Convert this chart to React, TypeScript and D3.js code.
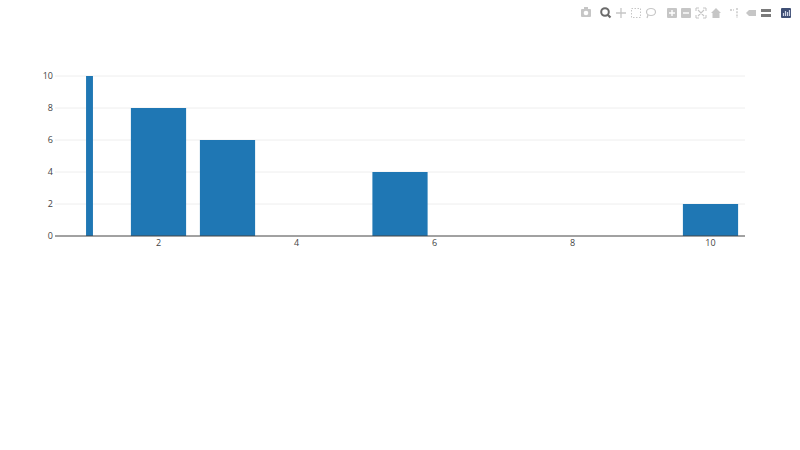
import { useRef, useEffect } from 'react';
import * as d3 from 'd3';

const xValues = [1, 2, 3, 5.5, 10];
const yValues = [10, 8, 6, 4, 2];
const barWidths = [0.1, 0.8, 0.8, 0.8, 0.8];
const xTicks = [2, 4, 6, 8, 10];
const yTicks = [0, 2, 4, 6, 8, 10];

const W = 800;
const H = 450;

export default function App() {
  const svgRef = useRef<SVGSVGElement>(null);

  useEffect(() => {
    const svg = d3.select(svgRef.current);
    svg.selectAll('*').remove();

    const left = 55, right = 745, top = 76, bottom = 236;
    const x = d3.scaleLinear().domain([0.5, 10.5]).range([left, right]);
    const y = d3.scaleLinear().domain([0, 10]).range([bottom, top]);

    const g = svg.append('g');
    const font = '"Open Sans", sans-serif';

    // grid
    yTicks.filter((t) => t !== 0).forEach((t) => {
      g.append('line').attr('x1', left).attr('x2', right)
        .attr('y1', y(t)).attr('y2', y(t))
        .attr('stroke', '#eee').attr('stroke-width', 1);
    });

    // bars
    xValues.forEach((xv, i) => {
      const x0 = x(xv - barWidths[i] / 2);
      const x1 = x(xv + barWidths[i] / 2);
      g.append('rect').attr('x', x0).attr('y', y(yValues[i]))
        .attr('width', x1 - x0).attr('height', y(0) - y(yValues[i]))
        .attr('fill', '#1f77b4');
    });

    // zero line
    g.append('line').attr('x1', left).attr('x2', right)
      .attr('y1', y(0)).attr('y2', y(0))
      .attr('stroke', '#444').attr('stroke-width', 1);

    // tick labels
    yTicks.forEach((t) => {
      g.append('text').attr('x', left - 2).attr('y', y(t) + 3)
        .attr('text-anchor', 'end').attr('fill', '#444')
        .attr('font-size', '9px').attr('font-family', font)
        .text(t);
    });
    xTicks.forEach((t) => {
      g.append('text').attr('x', x(t)).attr('y', bottom + 9.5)
        .attr('text-anchor', 'middle').attr('fill', '#444')
        .attr('font-size', '9px').attr('font-family', font)
        .text(t);
    });

    // modebar
    const mb = svg.append('g').attr('fill', '#c6c6c6').attr('stroke', 'none');
    const cy = 13;
    // camera
    mb.append('rect').attr('x', 581).attr('y', cy - 4).attr('width', 10).attr('height', 8).attr('rx', 1);
    mb.append('rect').attr('x', 584).attr('y', cy - 6).attr('width', 4).attr('height', 2);
    mb.append('circle').attr('cx', 586).attr('cy', cy).attr('r', 2.3).attr('fill', '#fff');
    // zoom (active)
    mb.append('circle').attr('cx', 605).attr('cy', cy - 1).attr('r', 3.8)
      .attr('fill', 'none').attr('stroke', '#6b6b6b').attr('stroke-width', 2);
    mb.append('line').attr('x1', 607.5).attr('y1', cy + 1.5).attr('x2', 610.5).attr('y2', cy + 4.5)
      .attr('stroke', '#6b6b6b').attr('stroke-width', 2.2);
    // pan
    mb.append('path').attr('d', `M616,${cy} H626 M621,${cy - 5} V${cy + 5}`)
      .attr('stroke', '#c6c6c6').attr('stroke-width', 1.3).attr('fill', 'none');
    // box select
    mb.append('rect').attr('x', 631.5).attr('y', cy - 4.5).attr('width', 9).attr('height', 9)
      .attr('fill', 'none').attr('stroke', '#c6c6c6').attr('stroke-dasharray', '1.5,1.5');
    // lasso
    mb.append('ellipse').attr('cx', 651).attr('cy', cy - 1).attr('rx', 4.5).attr('ry', 3.5)
      .attr('fill', 'none').attr('stroke', '#c6c6c6').attr('stroke-width', 1.2);
    mb.append('path').attr('d', `M648,${cy + 2} L647,${cy + 5}`).attr('stroke', '#c6c6c6').attr('stroke-width', 1.2);
    // zoom in / out
    mb.append('rect').attr('x', 667).attr('y', cy - 5).attr('width', 10).attr('height', 10).attr('rx', 1);
    mb.append('path').attr('d', `M669,${cy} H675 M672,${cy - 3} V${cy + 3}`).attr('stroke', '#fff').attr('stroke-width', 1.4);
    mb.append('rect').attr('x', 681).attr('y', cy - 5).attr('width', 10).attr('height', 10).attr('rx', 1);
    mb.append('path').attr('d', `M683,${cy} H689`).attr('stroke', '#fff').attr('stroke-width', 1.4);
    // autoscale
    mb.append('path').attr('d', `M696,${cy - 5} l3,0 M696,${cy - 5} l0,3 M706,${cy - 5} l-3,0 M706,${cy - 5} l0,3 M696,${cy + 5} l3,0 M696,${cy + 5} l0,-3 M706,${cy + 5} l-3,0 M706,${cy + 5} l0,-3 M698,${cy - 3} L704,${cy + 3} M704,${cy - 3} L698,${cy + 3}`)
      .attr('stroke', '#c6c6c6').attr('stroke-width', 1.1).attr('fill', 'none');
    // home
    mb.append('path').attr('d', `M711,${cy} L716,${cy - 5} L721,${cy} L719.5,${cy} L719.5,${cy + 5} L712.5,${cy + 5} L712.5,${cy} Z`);
    // spikelines
    mb.append('path').attr('d', `M730,${cy - 3} H734 M737,${cy - 5} V${cy + 5}`)
      .attr('stroke', '#c6c6c6').attr('stroke-width', 1.4).attr('stroke-dasharray', '2,1.2');
    // hover closest
    mb.append('path').attr('d', `M746,${cy} L749,${cy - 3} H756 V${cy + 3} H749 Z`);
    // hover compare
    mb.append('path').attr('d', `M761,${cy - 4} H771 V${cy - 1} H761 Z M761,${cy + 1} H771 V${cy + 4} H761 Z`).attr('fill', '#7a7a7a');
    // plotly logo
    mb.append('rect').attr('x', 781).attr('y', cy - 5).attr('width', 10).attr('height', 10).attr('rx', 1).attr('fill', '#3f4f75');
    [[783.5, 3], [785.5, 5], [787.5, 4], [789.5, 6]].forEach(([bx, bh]) => {
      mb.append('rect').attr('x', bx - 0.6).attr('y', cy + 3 - bh).attr('width', 1.2).attr('height', bh).attr('fill', '#cfd6e6');
    });
  }, []);

  return (
    <svg ref={svgRef} width={W} height={H} viewBox={`0 0 ${W} ${H}`}
      style={{ display: 'block', position: 'absolute', left: 0, top: 0, background: '#fff' }} />
  );
}
